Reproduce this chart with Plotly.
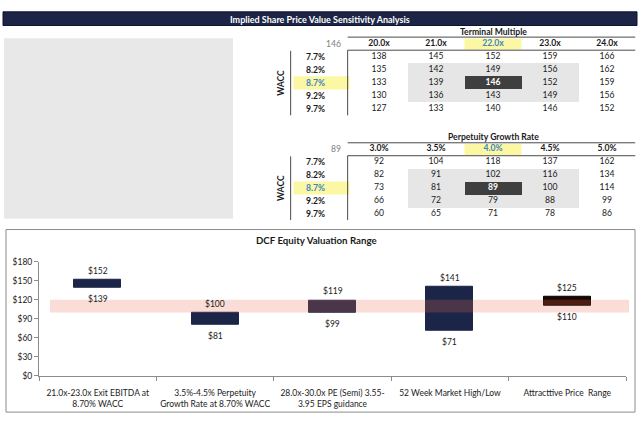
import numpy as np
import plotly.graph_objects as go

# ---------------- data ----------------
title_text = "Implied Share Price Value Sensitivity Analysis"
wacc_labels = ["7.7%", "8.2%", "8.7%", "9.2%", "9.7%"]

tm_title = "Terminal Multiple"
tm_cols = ["20.0x", "21.0x", "22.0x", "23.0x", "24.0x"]
tm_corner = "146"
tm_values = [
    [138, 145, 152, 159, 166],
    [135, 142, 149, 156, 162],
    [133, 139, 146, 152, 159],
    [130, 136, 143, 149, 156],
    [127, 133, 140, 146, 152],
]

pg_title = "Perpetuity Growth Rate"
pg_cols = ["3.0%", "3.5%", "4.0%", "4.5%", "5.0%"]
pg_corner = "89"
pg_values = [
    [92, 104, 118, 137, 162],
    [82, 91, 102, 116, 134],
    [73, 81, 89, 100, 114],
    [66, 72, 79, 88, 99],
    [60, 65, 71, 78, 86],
]
base_row, base_col = 2, 2

range_title = "DCF Equity Valuation Range"
range_cats = [
    "21.0x-23.0x Exit EBITDA at<br>8.70% WACC",
    "3.5%-4.5% Perpetuity<br>Growth Rate at 8.70% WACC",
    "28.0x-30.0x PE (Semi) 3.55-<br>3.95 EPS guidance",
    "52 Week Market High/Low",
    "Attracttive Price  Range",
]
range_low = [139, 81, 99, 71, 110]
range_high = [152, 100, 119, 141, 125]
band_low, band_high = 100, 120

# ---------------- styling ----------------
W, H = 640, 421
FONT = "Lato"
NAVY = "#1b2547"
BLUE = "#3d86c6"
YELLOW = "#fbf7a2"
TXT = "#1a1a1a"
TS = 8.6  # table font size


def px_x(p):
    return p / W


def px_y(p):
    return 1 - p / H


fig = go.Figure()

# ---------------- sensitivity tables ----------------
tables = [
    ("x2", "y2", tm_title, tm_cols, tm_corner, tm_values),
    ("x3", "y3", pg_title, pg_cols, pg_corner, pg_values),
]

for xr, yr, ttl, cols, corner, vals in tables:
    n = len(cols)
    rows = len(wacc_labels)
    z = np.full((rows, n), np.nan)
    for i in range(rows):
        for j in range(n):
            if abs(i - base_row) <= 1 and abs(j - base_col) <= 1:
                z[i, j] = 1
    z[base_row, base_col] = 2
    fig.add_trace(go.Heatmap(
        z=z, x=list(range(n)), y=list(range(rows)),
        colorscale=[[0, "#e6e6e6"], [0.5, "#e6e6e6"], [0.5, "#3f3f3f"], [1, "#3f3f3f"]],
        zmin=1, zmax=2, showscale=False, hoverinfo="skip",
        xaxis=xr, yaxis=yr,
    ))
    xs, ys, ts, cs = [], [], [], []
    for i in range(rows):
        for j in range(n):
            xs.append(j)
            ys.append(i)
            if (i, j) == (base_row, base_col):
                ts.append(f"<b>{vals[i][j]}</b>")
                cs.append("white")
            else:
                ts.append(str(vals[i][j]))
                cs.append(TXT)
    fig.add_trace(go.Scatter(
        x=xs, y=ys, text=ts, mode="text",
        textfont=dict(family=FONT, size=TS, color=cs),
        hoverinfo="skip", showlegend=False, xaxis=xr, yaxis=yr,
    ))
    fig.add_trace(go.Scatter(
        x=list(range(n)), y=[-1] * n,
        text=[f"<b>{c}</b>" for c in cols], mode="text",
        textfont=dict(family=FONT, size=TS,
                      color=[BLUE if j == base_col else TXT for j in range(n)]),
        hoverinfo="skip", showlegend=False, xaxis=xr, yaxis=yr,
    ))
    fig.add_shape(type="rect", xref=xr, yref=yr, x0=base_col - 0.5, x1=base_col + 0.5,
                  y0=-1.4, y1=-0.55, fillcolor=YELLOW, line_width=0, layer="below")
    fig.add_shape(type="rect", xref=xr, yref=yr, x0=-1.5, x1=-0.52,
                  y0=base_row - 0.5, y1=base_row + 0.5, fillcolor=YELLOW, line_width=0,
                  layer="below")
    lc = "#4a4a4a"
    fig.add_shape(type="line", xref=xr, yref=yr, x0=-0.55, x1=n - 0.5, y0=-1.5, y1=-1.5,
                  line=dict(color=lc, width=1))
    fig.add_shape(type="line", xref=xr, yref=yr, x0=-0.55, x1=n - 0.5, y0=-0.5, y1=-0.5,
                  line=dict(color=lc, width=1))
    fig.add_shape(type="line", xref=xr, yref=yr, x0=-0.55, x1=-0.55, y0=-0.5, y1=rows - 0.5,
                  line=dict(color=lc, width=1))
    fig.add_shape(type="line", xref=xr, yref=yr, x0=-1.55, x1=-1.55, y0=-0.45, y1=rows - 0.5,
                  line=dict(color=lc, width=1))
    fig.add_annotation(xref=xr, yref=yr, x=base_col, y=-1.92, text=f"<b>{ttl}</b>",
                       showarrow=False, font=dict(family=FONT, size=TS, color=TXT))
    fig.add_annotation(xref=xr, yref=yr, x=-0.63, y=-1, text=corner, xanchor="right",
                       showarrow=False, font=dict(family=FONT, size=TS, color="#808080"))
    for i, lab in enumerate(wacc_labels):
        fig.add_annotation(xref=xr, yref=yr, x=-0.91, y=i, text=f"<b>{lab}</b>",
                           xanchor="right", showarrow=False,
                           font=dict(family=FONT, size=TS,
                                     color=BLUE if i == base_row else TXT))
    fig.add_annotation(xref=xr, yref=yr, x=-1.72, y=base_row, text="<b>WACC</b>",
                       textangle=-90, showarrow=False,
                       font=dict(family=FONT, size=TS, color=TXT))

# ---------------- valuation range chart ----------------
span = [h - l for h, l in zip(range_high, range_low)]
bar_colors = [NAVY] * (len(range_cats) - 1) + ["#1e0702"]
line_colors = [NAVY] * (len(range_cats) - 1) + ["#000000"]
fig.add_trace(go.Bar(
    x=range_cats, y=span, base=range_low, width=0.4,
    marker=dict(color=bar_colors, line=dict(color=line_colors, width=1)),
    hoverinfo="skip", showlegend=False, xaxis="x", yaxis="y",
))
for c, v in zip(range_cats, range_high):
    fig.add_annotation(xref="x", yref="y", x=c, y=v, yshift=9, text=f"${v}",
                       showarrow=False, font=dict(family=FONT, size=8.5, color=TXT))
for c, v in zip(range_cats, range_low):
    fig.add_annotation(xref="x", yref="y", x=c, y=v, yshift=-11, text=f"${v}",
                       showarrow=False, font=dict(family=FONT, size=8.5, color=TXT))
fig.add_shape(type="rect", xref="paper", yref="y", x0=px_x(50), x1=px_x(629),
              y0=band_low, y1=band_high, fillcolor="rgba(238,110,80,0.23)",
              line_width=0, layer="above")

# decorations
fig.add_shape(type="rect", xref="paper", yref="paper", x0=px_x(3), x1=px_x(637),
              y0=px_y(21), y1=px_y(7), fillcolor="#1c2545",
              line=dict(color="#0e1430", width=1), layer="below")
fig.add_annotation(xref="paper", yref="paper", x=px_x(320), y=px_y(14.5),
                   xanchor="center", yanchor="middle",
                   text=f"<b>{title_text}</b>", showarrow=False,
                   font=dict(family=FONT, size=9, color="white"))
fig.add_shape(type="rect", xref="paper", yref="paper", x0=px_x(4), x1=px_x(233),
              y0=px_y(219), y1=px_y(34), fillcolor="#e8e8e8", line_width=0, layer="below")
fig.add_shape(type="rect", xref="paper", yref="paper", x0=px_x(6), x1=px_x(635),
              y0=px_y(417), y1=px_y(230), fillcolor="rgba(0,0,0,0)",
              line=dict(color="#8c8c8c", width=1), layer="below")
fig.add_annotation(xref="paper", yref="paper", x=px_x(316), y=px_y(241),
                   xanchor="center", yanchor="middle",
                   text=f"<b>{range_title}</b>", showarrow=False,
                   font=dict(family=FONT, size=9.7, color=TXT))

tbl_x = dict(domain=[px_x(236.5), px_x(635.5)], range=[-2.5, 4.5], visible=False,
             fixedrange=True)
fig.update_layout(
    width=W, height=H, margin=dict(l=0, r=0, t=0, b=0),
    paper_bgcolor="white", plot_bgcolor="rgba(0,0,0,0)",
    showlegend=False, bargap=0,
    xaxis=dict(domain=[px_x(39), px_x(626)], type="category", tickangle=0,
               showline=True, linecolor="#8c8c8c", linewidth=1,
               ticks="outside", tickson="boundaries", ticklen=4, tickcolor="#8c8c8c",
               ticklabelstandoff=9,
               showgrid=False, tickfont=dict(family=FONT, size=8.5, color=TXT),
               fixedrange=True),
    yaxis=dict(domain=[px_y(380), px_y(263)], range=[0, 180], dtick=30,
               tickprefix="$", showline=True, linecolor="#8c8c8c", linewidth=1,
               ticks="outside", ticklen=4, tickcolor="#8c8c8c", showgrid=False,
               zeroline=False, tickfont=dict(family=FONT, size=8.5, color=TXT),
               fixedrange=True),
    xaxis2=dict(anchor="y2", **tbl_x),
    yaxis2=dict(anchor="x2", domain=[px_y(113.3), px_y(19.5)], range=[4.5, -2.5],
                visible=False, fixedrange=True),
    xaxis3=dict(anchor="y3", **tbl_x),
    yaxis3=dict(anchor="x3", domain=[px_y(220.6), px_y(127.9)], range=[4.5, -2.5],
                visible=False, fixedrange=True),
)

fig.write_html("out.html")
